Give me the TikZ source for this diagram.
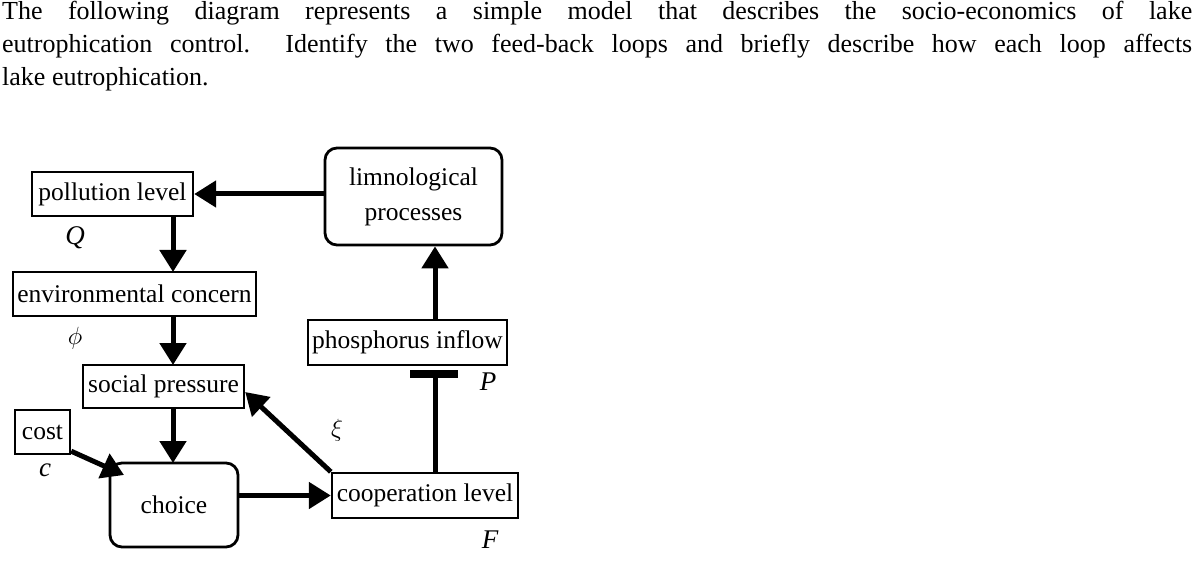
\documentclass[tikz,border=0pt]{standalone}
\usepackage{fontspec}
\setmainfont{Liberation Serif}
\usetikzlibrary{arrows.meta}
\begin{document}
\begin{tikzpicture}[x=1pt,y=-1pt,
  sq/.style={draw,line width=2.4pt,inner sep=0pt,font=\fontsize{25.5}{29}\selectfont},
  rd/.style={draw,line width=2.8pt,rounded corners=12pt,inner sep=0pt,font=\fontsize{25.5}{35}\selectfont,align=center},
  ar/.style={line width=5pt,-{Triangle[length=22pt,width=26pt]}},
  lab/.style={font=\fontsize{27}{29}\selectfont\itshape}]
\useasboundingbox (0,0) rectangle (1200,580);
\node[anchor=north west,align=left,font=\fontsize{26}{33}\selectfont,inner sep=0pt] (txt) at (2,1)
{\spaceskip=0.2em plus 1em minus 0.1em
\hbox to 1190pt{The following diagram represents a simple model that describes the socio-economics of lake}\\
\hbox to 1190pt{eutrophication control.\ \ Identify the two feed-back loops and briefly describe how each loop affects}\\
lake eutrophication.};
\node[sq,minimum width=161pt,minimum height=44pt] (pol) at (112.5,194) {pollution level};
\node[rd,minimum width=177pt,minimum height=97pt] (lim) at (413.5,196.5) {limnological\\processes};
\node[sq,minimum width=243pt,minimum height=44pt] (env) at (134.5,294) {environmental concern};
\node[sq,minimum width=161pt,minimum height=43pt] (soc) at (163.5,386.5) {social pressure};
\node[sq,minimum width=55pt,minimum height=44pt] (cost) at (42.5,432) {cost};
\node[rd,minimum width=128pt,minimum height=84pt] (cho) at (174,505) {choice};
\node[sq,minimum width=186pt,minimum height=45pt] (coo) at (425,495.5) {cooperation level};
\node[sq,minimum width=199pt,minimum height=45pt] (pho) at (407.5,342.5) {phosphorus inflow};
\node[lab] (Q) at (75,238) {Q};
\node[lab,font=\fontsize{34}{36}\selectfont] (phi) at (75,338) {$\phi$};
\node[lab] (c) at (45,470) {c};
\node[lab,font=\fontsize{34}{36}\selectfont] (xi) at (337,430) {$\xi$};
\node[lab] (P) at (488,382) {P};
\node[lab] (F) at (490,540) {F};
\draw[ar] (lim.west |- pol.east) -- (pol.east);
\draw[ar] (173,216) -- (173,272);
\draw[ar] (173,316) -- (173,365);
\draw[ar] (173,408) -- (173,463);
\draw[ar] (435,320) -- (lim.south -| 435,0);
\draw[line width=5pt] (435,473) -- (435,374);
\draw[line width=8pt] (410,374) -- (458,374);
\draw[ar] (cost.south east) ++(0,-4) -- (124,475);
\draw[ar] (cho.east |- coo.west) -- (coo.west);
\draw[ar] (coo.north west) -- (soc.east |- 0,392);
\end{tikzpicture}
\end{document}
